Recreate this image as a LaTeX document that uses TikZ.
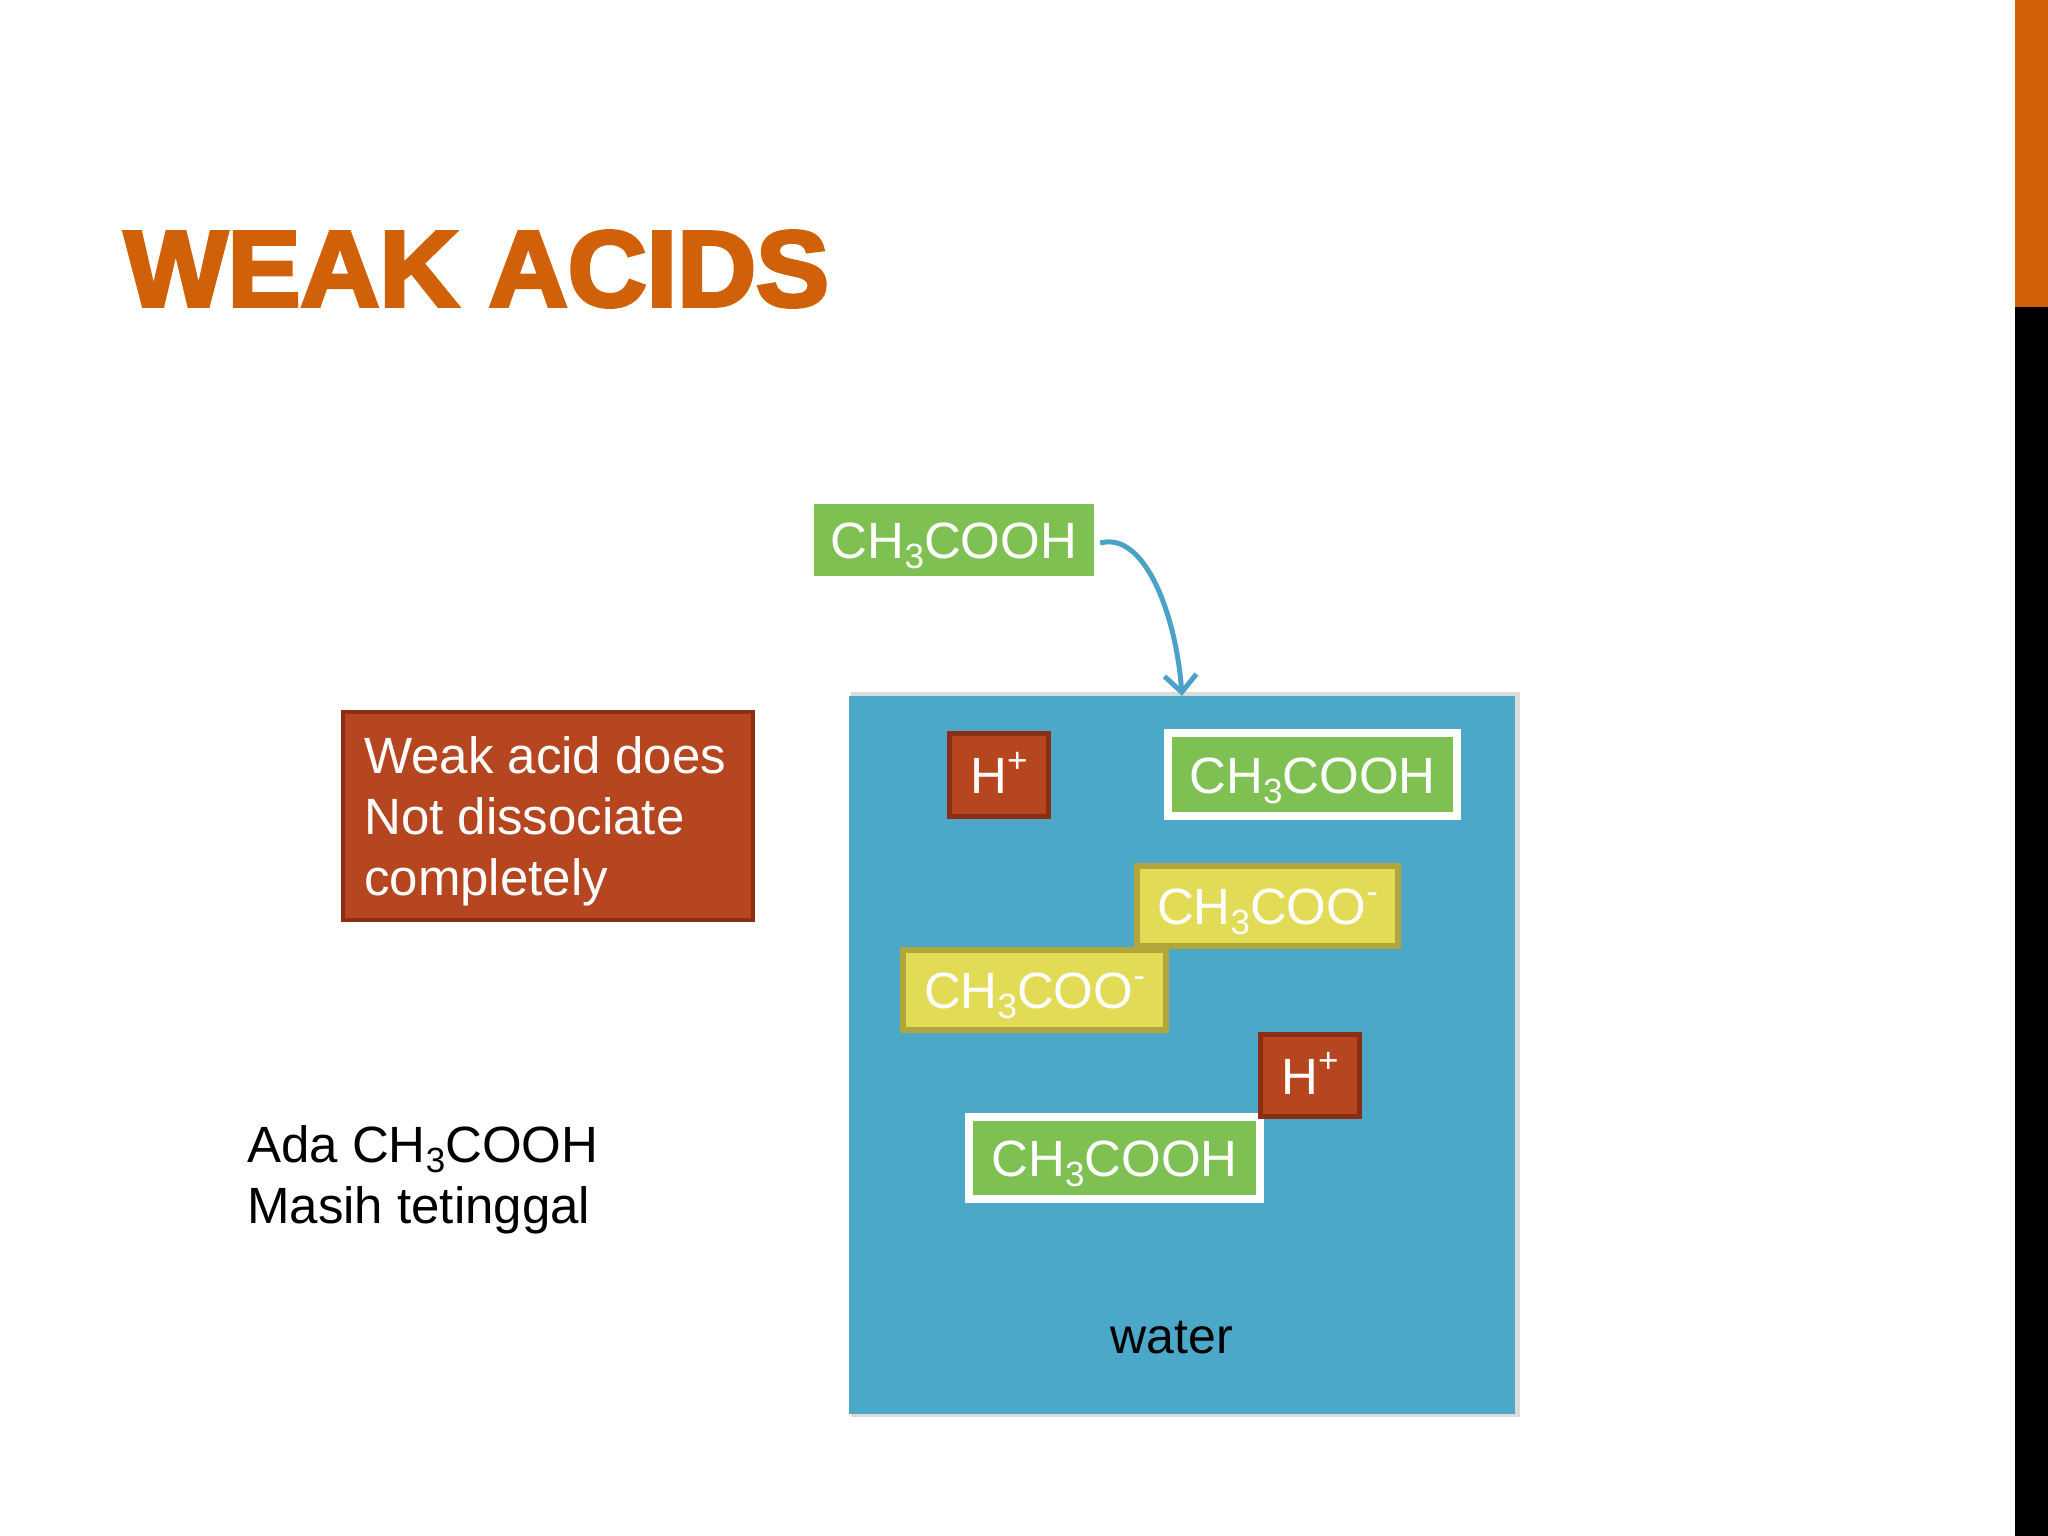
\documentclass[tikz,border=0pt]{standalone}
\usepackage{fontspec}
\setmainfont{Liberation Sans}
\newfontfamily\titlefont[BoldFeatures={FakeBold=3.5}]{Liberation Sans}
\usetikzlibrary{arrows.meta}
\definecolor{titleorange}{RGB}{209,97,8}
\definecolor{acidgreen}{RGB}{126,193,82}
\definecolor{waterblue}{RGB}{75,168,200}
\definecolor{hred}{RGB}{181,70,32}
\definecolor{hredborder}{RGB}{140,46,20}
\definecolor{ionyellow}{RGB}{225,219,85}
\definecolor{ionborder}{RGB}{176,166,57}
\definecolor{arrowblue}{RGB}{74,163,199}
\newcommand{\boxfont}{\fontsize{51pt}{60pt}\selectfont}
\newcommand{\smallidx}[1]{{\fontsize{35pt}{35pt}\selectfont #1}}
\newcommand{\AcAcid}{CH\raisebox{-0.2em}{\smallidx{3}}COOH}
\newcommand{\AcIon}{CH\raisebox{-0.2em}{\smallidx{3}}COO\raisebox{0.42em}{\smallidx{-}}}
\newcommand{\Hion}{H\raisebox{0.42em}{\smallidx{+}}}
\tikzset{
  plainacid/.style={fill=acidgreen, text=white, inner sep=0pt, font=\boxfont, text height=37pt, text depth=0pt},
  whiteacid/.style={plainacid, draw=white, line width=8pt},
  hbox/.style={fill=hred, draw=hredborder, line width=5pt, text=white, inner sep=0pt, font=\boxfont, text height=37pt, text depth=0pt},
  ionbox/.style={fill=ionyellow, draw=ionborder, line width=6pt, text=white, inner sep=0pt, font=\boxfont, text height=37pt, text depth=0pt},
  plaintext/.style={inner sep=0pt, font=\fontsize{51pt}{61pt}\selectfont, align=left}
}
\begin{document}
\begin{tikzpicture}[x=1pt, y=-1pt]
\useasboundingbox (0,0) rectangle (2048,1536);
\fill[white] (0,0) rectangle (2048,1536);
% side bar
\fill[titleorange] (2015,0) rectangle (2048,307);
\fill[black] (2015,307) rectangle (2048,1536);
% title
\node[anchor=base west, text=titleorange, inner sep=0pt] (title) at (124,306)
  {\resizebox{705pt}{75pt}{\titlefont\fontsize{103pt}{110pt}\selectfont\bfseries WEAK ACIDS}};
% water shadow and water
\fill[black!14] (851,692) rectangle (1520,1417);
\node[fill=waterblue, minimum width=666pt, minimum height=718pt, inner sep=0pt] (water) at (1182,1055) {};
\node[anchor=base, inner sep=0pt, font=\fontsize{50pt}{60pt}\selectfont] (watertext) at (1172,1353) {water};
% top acid
\node[plainacid, minimum width=280pt, minimum height=72pt] (acidtop) at (954,540) {\AcAcid};
% species in water
\node[hbox, minimum width=99pt, minimum height=83pt] (h1) at (999,775) {\Hion};
\node[whiteacid, minimum width=289pt, minimum height=83pt] (acid2) at (1312.5,774.5) {\AcAcid};
\node[ionbox, minimum width=261pt, minimum height=80pt] (ion1) at (1267.5,906) {\AcIon};
\node[ionbox, minimum width=263pt, minimum height=80pt] (ion2) at (1034.5,990) {\AcIon};
\node[whiteacid, minimum width=291pt, minimum height=82pt] (acid3) at (1114.5,1158) {\AcAcid};
\node[hbox, minimum width=99pt, minimum height=82pt] (h2) at (1310,1075.5) {\Hion};
% arrow
\draw[arrowblue, line width=5pt, -{Straight Barb[length=17pt, width=32pt]}]
  ([xshift=6pt, yshift=-3pt]acidtop.east) .. controls (1145,531) and (1176,615) .. (water.north);
% red text box
\node[fill=hred, draw=hredborder, line width=4pt, minimum width=410pt, minimum height=208pt, inner sep=0pt] (redbox) at (548,816) {};
\node[plaintext, text=white, anchor=north west] (redtext) at (364,736)
  {Weak acid does\\Not dissociate\\completely};
% left note
\node[plaintext, anchor=north west] (note) at (247,1125)
  {Ada \AcAcid\\Masih tetinggal};
\end{tikzpicture}
\end{document}
